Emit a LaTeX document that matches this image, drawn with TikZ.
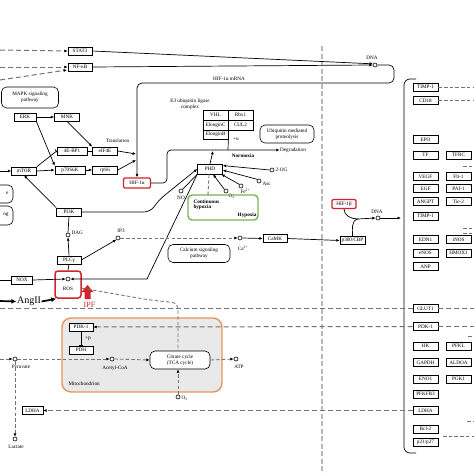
\documentclass[tikz,border=0pt]{standalone}
\usepackage{fontspec}
\setmainfont{Liberation Serif}
\usetikzlibrary{arrows.meta}
\definecolor{kred}{RGB}{210,35,45}
\definecolor{kgreen}{RGB}{120,180,80}
\definecolor{korange}{RGB}{232,148,88}
\definecolor{kgray}{RGB}{115,115,115}
\definecolor{kfill}{RGB}{233,233,233}
\tikzset{
  fs/.style={font=\fontsize{5.2}{5.8}\selectfont},
  fsb/.style={font=\bfseries\fontsize{5.2}{5.8}\selectfont},
  lbl/.style={fs, inner sep=0.3pt},
  gene/.style={fs, draw, line width=0.6pt, fill=white, minimum width=25pt, minimum height=8pt, inner sep=0pt},
  redgene/.style={gene, draw=kred, line width=1.3pt, rounded corners=1.2pt},
  pbox/.style={fs, draw, line width=0.6pt, rounded corners=5pt, align=center, inner sep=0pt},
  cpd/.style={circle, draw, line width=0.6pt, minimum size=4pt, inner sep=0pt, fill=white},
  ln/.style={line width=0.7pt},
  arr/.style={ln, -{Latex[length=3.4pt,width=3pt]}},
  inh/.style={ln, -{Bar[width=4.5pt]}},
  gd/.style={draw=kgray, line width=0.85pt, dash pattern=on 3.5pt off 2.2pt},
  gda/.style={gd, -{Latex[length=3.4pt,width=3pt,color=black]}},
  gl/.style={draw=kgray, line width=1pt, dash pattern=on 5pt off 3pt},
  gla/.style={gl, -{Latex[length=3.4pt,width=3pt,color=black]}},
  thk/.style={line width=1.7pt, -{Latex[length=5pt,width=5pt]}},
}
\begin{document}
\begin{tikzpicture}[x=1pt,y=-1pt]
\useasboundingbox (0,0) rectangle (474,474);
\fill[white] (0,0) rectangle (474,474);

% mitochondrion background
\node[draw=korange, line width=1.4pt, fill=kfill, rounded corners=9pt, minimum width=160pt, minimum height=74pt, inner sep=0pt] (mito) at (142,355) {};
\node[lbl, anchor=west] (mitol) at (68,384) {Mitochondrion};

% separator and bracket
\draw[draw=gray!55, line width=1.8pt, dash pattern=on 5pt off 2.5pt] (322,46) -- (322,474);
\draw[ln, rounded corners=6pt] (416,79) -- (404,79) -- (404,453) -- (416,453);

% ---------- right gene list ----------
\foreach \nm/\tx/\yy in {g1/TIMP-1/87, g2/CD18/100.5, g3/EPO/139.5, g4/TF/155, g5/VEGF/176.5, g6/EGF/188.5, g7/ANGPT/201.5, g8/TIMP-1/216, g9/EDN1/239.5, g10/eNOS/253, g11/ANP/266.5, glut/GLUT1/308.5, pdkR/PDK-1/326.5, g12/HK/346, g13/GAPDH/362.5, g14/ENO1/379, g15/PFKFB3/394, ldhaR/LDHA/410.5, g16/Bcl-2/429, g17/{p21/p27}/442.5}
  {\node[gene] (\nm) at (425.5,\yy) {\tx};}
\foreach \nm/\tx/\yy in {h4/TFRC/155, h5/Flt-1/176.5, h6/PAI-1/188.5, h7/Tie-2/201.5, h9/iNOS/239.5, h10/HMOX1/253, h12/PFKL/346, h13/ALDOA/362.5, h14/PGK1/379}
  {\node[gene] (\nm) at (458.5,\yy) {\tx};}
\coordinate (r1) at (474,87);
\coordinate (r2) at (474,100.5);
\draw[gd] (g1.east) -- (r1);
\draw[gd] (g2.east) -- (r2);
\draw[gd] (463,166) -- (474,166);
\draw[gd] (463,228) -- (474,228);
\draw[gd] (463,233) -- (474,233);
\draw[gd] (468,336) -- (474,336);
\draw[gd] (467,421) -- (474,421);
\draw[gd] (443,436) -- (474,436);

% ---------- top ----------
\node[gene, minimum width=24pt] (stat3) at (80,51) {STAT3};
\node[gene, minimum width=24pt] (nfkb) at (80,67) {NF-κB};
\coordinate (in1) at (0,50);
\coordinate (in2) at (0,67);
\coordinate (in3) at (0,80);
\coordinate (in3e) at (67,70);
\draw[gla] (in1) -- (stat3.west);
\draw[gla] (in2) -- (nfkb.west);
\draw[gla] (in3) -- (in3e);
\node[cpd] (dna1) at (375,65) {};
\node[lbl] (dna1l) at (372,58) {DNA};
\draw[arr] (stat3.east) -- (dna1.150);
\draw[arr] (nfkb.east) -- (dna1.west);

\node[redgene, minimum width=27pt, minimum height=10pt] (hif1a) at (137,183) {HIF-1α};
\draw[arr, rounded corners=5pt] (dna1.east) -- (394,65) -- (394,83) -- (137,83) -- (hif1a.north);
\node[lbl] (mrna) at (229,79) {HIF-1α mRNA};

% ---------- MAPK / mTOR ----------
\node[pbox, minimum width=57pt, minimum height=21pt] (mapk) at (30,97.5) {MAPK signaling\\pathway};
\node[gene, minimum width=22pt] (erk) at (25,117) {ERK};
\node[gene] (mnk) at (67,117) {MNK};
\node[gene, minimum width=30pt] (ebp) at (72,151) {4E-BP1};
\node[gene] (eif) at (105,151) {eIF4E};
\node[lbl] (transl) at (117.5,141) {Translation};
\node[gene] (mtor) at (24,171) {mTOR};
\node[gene, minimum width=30pt] (p70) at (70,170) {p70S6K};
\node[gene] (rps6) at (105,170) {rpS6};
\coordinate (in4) at (0,171);
\draw[arr] (in4) -- (mtor.west);
\draw[arr] (erk.east) -- (mnk.west);
\draw[arr] (mnk.south) -- (eif.north west);
\draw[inh] (ebp.east) -- (eif.west);
\draw[arr] (erk.south east) -- (p70.north west);
\draw[inh] (mtor.north east) -- (ebp.west);
\draw[arr] (mtor.east) -- (p70.west);
\draw[arr] (p70.east) -- (rps6.west);
\coordinate (hj1) at (136,154);
\coordinate (hj2) at (136,160);
\draw[arr] (eif.east) -- (hj1);
\draw[arr] (rps6.east) -- (hj2);

% left partial boxes
\node[pbox, minimum width=40pt, minimum height=18pt] (lb1) at (-7,194) {};
\node[lbl, anchor=east] (lb1t) at (9,193) {e};
\node[pbox, minimum width=40pt, minimum height=19pt] (lb2) at (-7,215.5) {};
\node[lbl, anchor=east] (lb2t) at (9,215) {ng};

% ---------- PI3K / PLC ----------
\node[gene] (pi3k) at (69,212) {PI3K};
\node[cpd] (dag) at (68,235) {};
\node[lbl, anchor=west] (dagl) at (71,233) {DAG};
\node[cpd] (ip3) at (118,238) {};
\node[lbl] (ip3l) at (121,231) {IP3};
\node[gene, minimum width=24pt] (plc) at (69,260) {PLCγ};
\draw[ln] (pi3k.south) -- (dag.north);
\draw[arr] (plc.north) -- (dag.south);
\draw[arr] (plc.east) -- (ip3.south west);
\draw[arr] (pi3k.north west) -- (mtor.south);

% ---------- ROS ----------
\node[draw=kred, line width=1.5pt, rounded corners=3pt, minimum width=26pt, minimum height=27pt, inner sep=0pt] (ros) at (68,284.5) {};
\node[cpd] (roscpd) at (68,279) {};
\node[lbl] (rosl) at (68,289) {ROS};
\draw[ln] (ros.north) -- (plc.south);
\node[gene, minimum width=21pt] (nox) at (22,280) {NOX};
\coordinate (in5) at (0,280);
\draw[ln] (in5) -- (nox.west);
\draw[arr] (nox.east) -- (roscpd.west);

\node[font=\fontsize{10}{10}\selectfont, inner sep=0.5pt] (angii) at (29,301.5) {AngII};
\coordinate (in6) at (0,301);
\draw[thk] (in6) -- (angii.west);
\draw[thk] (angii.east) -- ([xshift=2pt]ros.south west);
\fill[kred] (84.5,299) -- (84.5,292) -- (81.5,292) -- (87.5,285) -- (93.5,292) -- (90.5,292) -- (90.5,299) -- cycle;
\node[text=kred, font=\fontsize{8}{8}\selectfont, inner sep=0pt] (ipf) at (89.5,305) {IPF};

% ---------- PHD / degradation ----------
\node[pbox, minimum width=62pt, minimum height=18pt] (calc) at (199,253.5) {Calcium signaling\\pathway};
\node[lbl, align=center] (e3l) at (190,104) {E3 ubiquitin ligase\\complex};
\node[gene, minimum height=10pt] (vhl) at (215.5,115) {VHL};
\node[gene, minimum height=10pt] (rbx) at (240.5,115) {Rbx1};
\node[gene, minimum height=10pt] (eloc) at (215.5,125) {ElonginC};
\node[gene, minimum height=10pt] (cul2) at (240.5,125) {CUL2};
\node[gene, minimum height=9pt] (elob) at (215.5,134.5) {ElonginB};
\node[pbox, minimum width=54pt, minimum height=18pt] (ubq) at (287,134) {Ubiquitin mediated\\proteolysis};

\node[lbl] (degr) at (293,150) {Degradation};
\draw[arr, rounded corners=4pt] (hif1a.east) -- (167,183) -- (167,150) -- (degr.west);
\node[lbl, fsb] (normox) at (243,156) {Normoxia};
\coordinate (ubj) at (228,150);
\draw[ln] (elob.south east) -- (ubj);
\node[lbl] (ubl) at (236,139) {+u};

\node[gene, minimum height=10pt] (phd) at (210,169) {PHD};
\coordinate (hyd) at (213,151);
\draw[arr] (phd.north) -- (hyd);
\node[cpd] (og) at (272,170) {};
\node[lbl, anchor=west] (ogl) at (275,170) {2-OG};
\node[cpd] (asc) at (259,181) {};
\node[lbl, anchor=west] (ascl) at (262,184) {Asc};
\node[cpd] (fe) at (241,186) {};
\node[lbl, anchor=west] (fel) at (240,191) {Fe\textsuperscript{2+}};
\node[cpd] (o2a) at (226,191) {};
\node[lbl, anchor=west] (o2al) at (228,196) {O\textsubscript{2}};
\node[cpd] (no) at (181,191) {};
\node[lbl] (nol) at (181,198) {NO};
\draw[arr] (og.west) -- (phd.15);
\draw[arr] (asc.north west) -- (phd.-5);
\draw[arr] (fe.north west) -- (phd.-25);
\draw[arr] (o2a.north west) -- (phd.-60);
\draw[ln] (no.north east) -- (phd.south west);

\node[draw=kgreen, line width=1.4pt, rounded corners=4pt, minimum width=70pt, minimum height=25pt, inner sep=0pt] (hyp) at (223,207.5) {};
\node[lbl, fsb, align=left, anchor=north west] (conthyp) at (193,199) {Continuous\\hypoxia};
\node[lbl, fsb, anchor=east] (hypl) at (257,215.5) {Hypoxia};
\coordinate (hyp1) at (208,195);
\draw[gd] (hyp1) -- (phd.-100);

\draw[arr, rounded corners=6pt] (pi3k.east) -- (150,212) -- (160,199) -- (phd.west);
\coordinate (rosj) at (147,279);
\draw[arr] (phd.south west) -- (rosj) -- (roscpd.east);

% ---------- calcium / p300 / HIF-1b ----------
\node[cpd] (ca) at (240,238) {};
\node[lbl] (cal) at (243,248) {Ca\textsuperscript{2+}};
\draw[gda] (ip3.east) -- (ca.west);
\node[gene, minimum width=24pt] (camk) at (275,238.5) {CaMK};
\draw[arr] (ca.east) -- (camk.west);
\node[gene, minimum width=25pt] (p300) at (352.5,240.5) {p300/CBP};
\draw[arr] (camk.east) -- (p300.west);
\node[redgene, minimum width=24pt, minimum height=9pt] (hif1b) at (344,204) {HIF-1β};
\node[cpd] (dna2) at (378,218) {};
\node[lbl] (dna2l) at (377,212) {DNA};
\coordinate (hj3) at (358,219);
\draw[ln] (hif1b.south) to[out=-90,in=180] (hj3);
\draw[ln] (p300.north) to[out=90,in=190] (hj3);
\draw[arr] (hj3) -- (dna2.west);
\coordinate (gtar) at (401,218);
\draw[arr] (dna2.east) -- (gtar);

% ---------- long dashed lines ----------
\coordinate (in8) at (0,308.5);
\coordinate (r3) at (474,308.5);
\draw[gl] (in8) -- (glut.west);
\draw[gl] (glut.east) -- (r3);
\node[gene, minimum width=24pt] (pdkL) at (81,327) {PDK-1};
\node[gene, minimum width=24pt] (pdh) at (81,350) {PDH};
\coordinate (r4) at (474,326.5);
\draw[gla] (pdkR.west) -- (pdkL.east);
\draw[gl] (pdkR.east) -- (r4);
\draw[inh] (pdkL.south) -- (pdh.north);
\node[lbl] (pl) at (88,339) {+p};
\node[gene, minimum width=21pt] (ldhaL) at (32.5,410.5) {LDHA};
\draw[gla] (ldhaR.west) -- (ldhaL.east);

% ---------- metabolism ----------
\draw[gd, rounded corners=6pt] (ros.-15) -- (150,300) -- (178,303) -- (178,351);
\node[pbox, minimum width=60pt, minimum height=18pt, fill=white] (citr) at (180,360) {Citrate cycle\\(TCA cycle)};
\node[cpd] (pyr) at (15,359) {};
\node[lbl] (pyrl) at (21,367.5) {Pyruvate};
\coordinate (in7) at (0,359);
\draw[gda] (in7) -- (pyr.west);
\node[cpd] (acoa) at (112,359) {};
\node[lbl] (acoal) at (115,368.5) {Acetyl-CoA};
\draw[gda] (pyr.east) -- (acoa.west);
\draw[gda] (acoa.east) -- (citr.west);
\node[cpd] (atp) at (236,359) {};
\node[lbl] (atpl) at (239,367) {ATP};
\draw[gda] (citr.east) -- (atp.west);
\node[cpd] (o2b) at (178,397) {};
\node[lbl, anchor=west] (o2bl) at (181,398) {O\textsubscript{2}};
\draw[gda] (o2b.north) -- (o2b.north |- citr.south);
\node[cpd] (lac) at (15,439) {};
\node[lbl] (lacl) at (16,447) {Lactate};
\draw[gda] (pyr.south) -- (lac.north);
\end{tikzpicture}
\end{document}
